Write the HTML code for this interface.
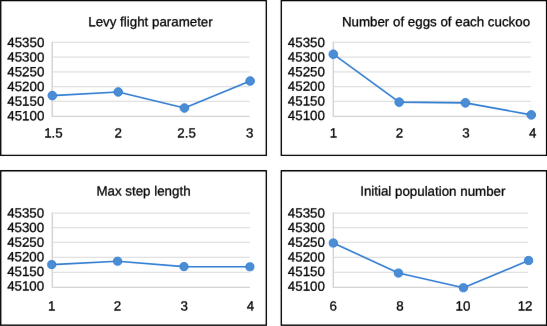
<!DOCTYPE html>
<html><head><meta charset="utf-8"><title>Parameter charts</title>
<style>html,body{margin:0;padding:0;background:#fff}body{width:547px;height:326px;overflow:hidden}svg{display:block}</style>
</head><body>
<svg width="547" height="326" viewBox="0 0 547 326" font-family='"Liberation Sans", sans-serif' font-size="13.33" fill="#000" style="text-rendering:geometricPrecision" stroke-linejoin="round">
<defs><filter id="soft" x="-6" y="-6" width="559" height="338" filterUnits="userSpaceOnUse" color-interpolation-filters="sRGB"><feConvolveMatrix order="3" kernelMatrix="0.00160 0.03680 0.00160 0.03680 0.84640 0.03680 0.00160 0.03680 0.00160" edgeMode="duplicate" preserveAlpha="false"/></filter></defs>
<rect width="547" height="326" fill="#fff"/>
<g filter="url(#soft)">
<path d="M-4,-4H267V0.2H0.2V155.4H-4Z M280.6,-4H551V155.4H546.8V0.2H280.6Z M-4,170.1H0.2V325.6H267V330H-4Z M546.8,170.1H551V330H280.6V325.6H546.8Z" fill="#000"/>
<g id="P1">
<rect x="0.72" y="0.65" width="265.6" height="154.75" fill="#fff" stroke="#000" stroke-width="1.35"/>
<line x1="52.2" x2="249.6" y1="42.35" y2="42.35" stroke="#e0e0e0" stroke-width="1.2"/>
<text transform="translate(44.30,46.95) matrix(1 0.0005 0 1.0 0 0)" text-anchor="end" stroke="#000" stroke-width="0.28">45350</text>
<line x1="52.2" x2="249.6" y1="57.10" y2="57.10" stroke="#e0e0e0" stroke-width="1.2"/>
<text transform="translate(44.30,61.63) matrix(1 0.0005 0 1.0 0 0)" text-anchor="end" stroke="#000" stroke-width="0.28">45300</text>
<line x1="52.2" x2="249.6" y1="71.85" y2="71.85" stroke="#e0e0e0" stroke-width="1.2"/>
<text transform="translate(44.30,76.31) matrix(1 0.0005 0 1.0 0 0)" text-anchor="end" stroke="#000" stroke-width="0.28">45250</text>
<line x1="52.2" x2="249.6" y1="86.70" y2="86.70" stroke="#e0e0e0" stroke-width="1.2"/>
<text transform="translate(44.30,90.99) matrix(1 0.0005 0 1.0 0 0)" text-anchor="end" stroke="#000" stroke-width="0.28">45200</text>
<line x1="52.2" x2="249.6" y1="101.45" y2="101.45" stroke="#e0e0e0" stroke-width="1.2"/>
<text transform="translate(44.30,105.67) matrix(1 0.0005 0 1.0 0 0)" text-anchor="end" stroke="#000" stroke-width="0.28">45150</text>
<line x1="52.2" x2="249.6" y1="116.35" y2="116.35" stroke="#d2d2d2" stroke-width="1.2"/>
<text transform="translate(44.30,120.35) matrix(1 0.0005 0 1.0 0 0)" text-anchor="end" stroke="#000" stroke-width="0.28">45100</text>
<line x1="52.2" x2="52.2" y1="41.85" y2="116.8" stroke="#d2d2d2" stroke-width="1.4"/>
<text transform="translate(150.50,26.35) matrix(1 0.0005 0 1.0 0 0)" text-anchor="middle" stroke="#000" stroke-width="0.28">Levy flight parameter</text>
<text transform="translate(53.45,137.50) matrix(1 0.0005 0 1.0 0 0)" text-anchor="middle" stroke="#000" stroke-width="0.28">1.5</text>
<text transform="translate(118.10,137.50) matrix(1 0.0005 0 1.0 0 0)" text-anchor="middle" stroke="#000" stroke-width="0.28">2</text>
<text transform="translate(186.60,137.50) matrix(1 0.0005 0 1.0 0 0)" text-anchor="middle" stroke="#000" stroke-width="0.28">2.5</text>
<text transform="translate(249.60,137.50) matrix(1 0.0005 0 1.0 0 0)" text-anchor="middle" stroke="#000" stroke-width="0.28">3</text>
<polyline points="52.3,95.6 118.25,91.95 184.45,108.0 250.15,81.0" fill="none" stroke="#2f7bd1" stroke-width="1.6" stroke-linejoin="round" stroke-linecap="round"/>
<circle cx="52.3" cy="95.6" r="4.3" fill="#4a8dd4" stroke="#2f7bd1" stroke-width="0.9"/>
<circle cx="118.25" cy="91.95" r="4.3" fill="#4a8dd4" stroke="#2f7bd1" stroke-width="0.9"/>
<circle cx="184.45" cy="108.0" r="4.3" fill="#4a8dd4" stroke="#2f7bd1" stroke-width="0.9"/>
<circle cx="250.15" cy="81.0" r="4.3" fill="#4a8dd4" stroke="#2f7bd1" stroke-width="0.9"/>
</g>
<g id="P2">
<rect x="281.3" y="0.65" width="265.3" height="154.75" fill="#fff" stroke="#000" stroke-width="1.35"/>
<line x1="333.3" x2="531.0" y1="42.35" y2="42.35" stroke="#e0e0e0" stroke-width="1.2"/>
<text transform="translate(324.90,46.95) matrix(1 0.0005 0 1.0 0 0)" text-anchor="end" stroke="#000" stroke-width="0.28">45350</text>
<line x1="333.3" x2="531.0" y1="57.10" y2="57.10" stroke="#e0e0e0" stroke-width="1.2"/>
<text transform="translate(324.90,61.57) matrix(1 0.0005 0 1.0 0 0)" text-anchor="end" stroke="#000" stroke-width="0.28">45300</text>
<line x1="333.3" x2="531.0" y1="71.85" y2="71.85" stroke="#e0e0e0" stroke-width="1.2"/>
<text transform="translate(324.90,76.19) matrix(1 0.0005 0 1.0 0 0)" text-anchor="end" stroke="#000" stroke-width="0.28">45250</text>
<line x1="333.3" x2="531.0" y1="86.70" y2="86.70" stroke="#e0e0e0" stroke-width="1.2"/>
<text transform="translate(324.90,90.81) matrix(1 0.0005 0 1.0 0 0)" text-anchor="end" stroke="#000" stroke-width="0.28">45200</text>
<line x1="333.3" x2="531.0" y1="101.45" y2="101.45" stroke="#e0e0e0" stroke-width="1.2"/>
<text transform="translate(324.90,105.43) matrix(1 0.0005 0 1.0 0 0)" text-anchor="end" stroke="#000" stroke-width="0.28">45150</text>
<line x1="333.3" x2="531.0" y1="116.35" y2="116.35" stroke="#d2d2d2" stroke-width="1.2"/>
<text transform="translate(324.90,120.05) matrix(1 0.0005 0 1.0 0 0)" text-anchor="end" stroke="#000" stroke-width="0.28">45100</text>
<line x1="333.3" x2="333.3" y1="41.85" y2="116.8" stroke="#d2d2d2" stroke-width="1.4"/>
<text transform="translate(436.00,26.30) matrix(1 0.0005 0 1.0 0 0)" text-anchor="middle" stroke="#000" stroke-width="0.28">Number of eggs of each cuckoo</text>
<text transform="translate(333.40,137.50) matrix(1 0.0005 0 1.0 0 0)" text-anchor="middle" stroke="#000" stroke-width="0.28">1</text>
<text transform="translate(399.50,137.50) matrix(1 0.0005 0 1.0 0 0)" text-anchor="middle" stroke="#000" stroke-width="0.28">2</text>
<text transform="translate(465.90,137.50) matrix(1 0.0005 0 1.0 0 0)" text-anchor="middle" stroke="#000" stroke-width="0.28">3</text>
<text transform="translate(532.60,137.50) matrix(1 0.0005 0 1.0 0 0)" text-anchor="middle" stroke="#000" stroke-width="0.28">4</text>
<polyline points="333.3,54.2 399.2,102.1 465.4,102.85 531.3,114.9" fill="none" stroke="#2f7bd1" stroke-width="1.6" stroke-linejoin="round" stroke-linecap="round"/>
<circle cx="333.3" cy="54.2" r="4.3" fill="#4a8dd4" stroke="#2f7bd1" stroke-width="0.9"/>
<circle cx="399.2" cy="102.1" r="4.3" fill="#4a8dd4" stroke="#2f7bd1" stroke-width="0.9"/>
<circle cx="465.4" cy="102.85" r="4.3" fill="#4a8dd4" stroke="#2f7bd1" stroke-width="0.9"/>
<circle cx="531.3" cy="114.9" r="4.3" fill="#4a8dd4" stroke="#2f7bd1" stroke-width="0.9"/>
</g>
<g id="P3">
<rect x="0.72" y="170.75" width="265.6" height="154.35" fill="#fff" stroke="#000" stroke-width="1.35"/>
<line x1="52.3" x2="250.0" y1="213.10" y2="213.10" stroke="#e0e0e0" stroke-width="1.2"/>
<text transform="translate(44.20,217.40) matrix(1 0.0005 0 1.0 0 0)" text-anchor="end" stroke="#000" stroke-width="0.28">45350</text>
<line x1="52.3" x2="250.0" y1="227.60" y2="227.60" stroke="#e0e0e0" stroke-width="1.2"/>
<text transform="translate(44.20,232.03) matrix(1 0.0005 0 1.0 0 0)" text-anchor="end" stroke="#000" stroke-width="0.28">45300</text>
<line x1="52.3" x2="250.0" y1="242.35" y2="242.35" stroke="#e0e0e0" stroke-width="1.2"/>
<text transform="translate(44.20,246.66) matrix(1 0.0005 0 1.0 0 0)" text-anchor="end" stroke="#000" stroke-width="0.28">45250</text>
<line x1="52.3" x2="250.0" y1="257.45" y2="257.45" stroke="#e0e0e0" stroke-width="1.2"/>
<text transform="translate(44.20,261.29) matrix(1 0.0005 0 1.0 0 0)" text-anchor="end" stroke="#000" stroke-width="0.28">45200</text>
<line x1="52.3" x2="250.0" y1="272.30" y2="272.30" stroke="#e0e0e0" stroke-width="1.2"/>
<text transform="translate(44.20,275.92) matrix(1 0.0005 0 1.0 0 0)" text-anchor="end" stroke="#000" stroke-width="0.28">45150</text>
<line x1="52.3" x2="250.0" y1="287.40" y2="287.40" stroke="#d2d2d2" stroke-width="1.2"/>
<text transform="translate(44.20,290.55) matrix(1 0.0005 0 1.0 0 0)" text-anchor="end" stroke="#000" stroke-width="0.28">45100</text>
<line x1="52.3" x2="52.3" y1="212.6" y2="287.90000000000003" stroke="#d2d2d2" stroke-width="1.4"/>
<text transform="translate(143.50,195.50) matrix(1 0.0005 0 1.0 0 0)" text-anchor="middle" stroke="#000" stroke-width="0.28">Max step length</text>
<text transform="translate(51.60,310.50) matrix(1 0.0005 0 1.0 0 0)" text-anchor="middle" stroke="#000" stroke-width="0.28">1</text>
<text transform="translate(117.50,310.50) matrix(1 0.0005 0 1.0 0 0)" text-anchor="middle" stroke="#000" stroke-width="0.28">2</text>
<text transform="translate(184.10,310.50) matrix(1 0.0005 0 1.0 0 0)" text-anchor="middle" stroke="#000" stroke-width="0.28">3</text>
<text transform="translate(250.40,310.50) matrix(1 0.0005 0 1.0 0 0)" text-anchor="middle" stroke="#000" stroke-width="0.28">4</text>
<polyline points="51.7,264.6 117.6,261.2 184.0,266.6 249.9,266.8" fill="none" stroke="#2f7bd1" stroke-width="1.6" stroke-linejoin="round" stroke-linecap="round"/>
<circle cx="51.7" cy="264.6" r="4.05" fill="#4a8dd4" stroke="#2f7bd1" stroke-width="0.9"/>
<circle cx="117.6" cy="261.2" r="4.05" fill="#4a8dd4" stroke="#2f7bd1" stroke-width="0.9"/>
<circle cx="184.0" cy="266.6" r="4.05" fill="#4a8dd4" stroke="#2f7bd1" stroke-width="0.9"/>
<circle cx="249.9" cy="266.8" r="4.05" fill="#4a8dd4" stroke="#2f7bd1" stroke-width="0.9"/>
</g>
<g id="P4">
<rect x="281.3" y="170.75" width="265.3" height="154.3" fill="#fff" stroke="#000" stroke-width="1.35"/>
<line x1="333.3" x2="528.2" y1="213.10" y2="213.10" stroke="#e0e0e0" stroke-width="1.2"/>
<text transform="translate(324.90,217.40) matrix(1 0.0005 0 1.0 0 0)" text-anchor="end" stroke="#000" stroke-width="0.28">45350</text>
<line x1="333.3" x2="528.2" y1="227.60" y2="227.60" stroke="#e0e0e0" stroke-width="1.2"/>
<text transform="translate(324.90,232.08) matrix(1 0.0005 0 1.0 0 0)" text-anchor="end" stroke="#000" stroke-width="0.28">45300</text>
<line x1="333.3" x2="528.2" y1="242.35" y2="242.35" stroke="#e0e0e0" stroke-width="1.2"/>
<text transform="translate(324.90,246.76) matrix(1 0.0005 0 1.0 0 0)" text-anchor="end" stroke="#000" stroke-width="0.28">45250</text>
<line x1="333.3" x2="528.2" y1="257.45" y2="257.45" stroke="#e0e0e0" stroke-width="1.2"/>
<text transform="translate(324.90,261.44) matrix(1 0.0005 0 1.0 0 0)" text-anchor="end" stroke="#000" stroke-width="0.28">45200</text>
<line x1="333.3" x2="528.2" y1="272.30" y2="272.30" stroke="#e0e0e0" stroke-width="1.2"/>
<text transform="translate(324.90,276.12) matrix(1 0.0005 0 1.0 0 0)" text-anchor="end" stroke="#000" stroke-width="0.28">45150</text>
<line x1="333.3" x2="528.2" y1="287.40" y2="287.40" stroke="#d2d2d2" stroke-width="1.2"/>
<text transform="translate(324.90,290.80) matrix(1 0.0005 0 1.0 0 0)" text-anchor="end" stroke="#000" stroke-width="0.28">45100</text>
<line x1="333.3" x2="333.3" y1="212.6" y2="287.90000000000003" stroke="#d2d2d2" stroke-width="1.4"/>
<text transform="translate(432.80,195.65) matrix(1 0.0005 0 1.0 0 0)" text-anchor="middle" stroke="#000" stroke-width="0.28">Initial population number</text>
<text transform="translate(333.30,310.60) matrix(1 0.0005 0 1.0 0 0)" text-anchor="middle" stroke="#000" stroke-width="0.28">6</text>
<text transform="translate(399.85,310.60) matrix(1 0.0005 0 1.0 0 0)" text-anchor="middle" stroke="#000" stroke-width="0.28">8</text>
<text transform="translate(463.00,310.60) matrix(1 0.0005 0 1.0 0 0)" text-anchor="middle" stroke="#000" stroke-width="0.28">10</text>
<text transform="translate(525.10,310.60) matrix(1 0.0005 0 1.0 0 0)" text-anchor="middle" stroke="#000" stroke-width="0.28">12</text>
<polyline points="333.3,243.0 398.45,273.05 463.4,287.75 528.6,260.5" fill="none" stroke="#2f7bd1" stroke-width="1.6" stroke-linejoin="round" stroke-linecap="round"/>
<circle cx="333.3" cy="243.0" r="4.1" fill="#4a8dd4" stroke="#2f7bd1" stroke-width="0.9"/>
<circle cx="398.45" cy="273.05" r="4.1" fill="#4a8dd4" stroke="#2f7bd1" stroke-width="0.9"/>
<circle cx="463.4" cy="287.75" r="4.1" fill="#4a8dd4" stroke="#2f7bd1" stroke-width="0.9"/>
<circle cx="528.6" cy="260.5" r="4.1" fill="#4a8dd4" stroke="#2f7bd1" stroke-width="0.9"/>
</g>
</g>
</svg>
</body></html>
